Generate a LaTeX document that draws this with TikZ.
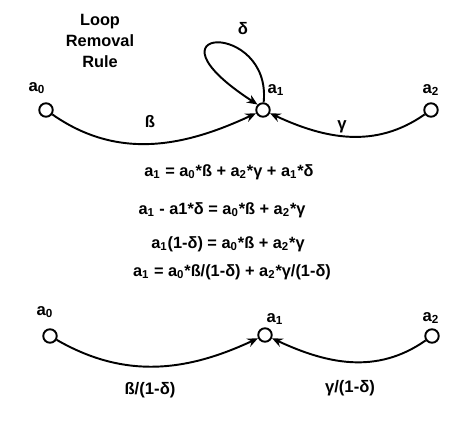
\documentclass[tikz,border=0pt]{standalone}
\usepackage{fontspec}
\setmainfont{Liberation Sans}
\usetikzlibrary{arrows.meta,positioning}
\newcommand{\sbs}[1]{\textsubscript{#1}}

\begin{document}
\begin{tikzpicture}[
  x=0.02cm, y=0.02cm,
  state/.style={circle, draw, line width=1.1pt, fill=white, minimum size=0.27cm, inner sep=0pt},
  tag/.style={font=\fontsize{9.5}{11}\selectfont\bfseries, inner sep=1pt},
  eqn/.style={font=\fontsize{9.3}{11}\selectfont\bfseries, inner sep=1pt},
  edge/.style={line width=1.1pt, -{Stealth[length=6pt,width=5pt]}},
  node distance=0.1cm
]
  \useasboundingbox (0,0) rectangle (474,420);

  % title
  \node[tag, align=center, font=\fontsize{9.3}{12}\selectfont\bfseries] (title) at (100,379)
    {Loop\\Removal\\Rule};

  % top graph
  \node[state] (a0) at (46,310) {};
  \node[state] (a1) at (263,310) {};
  \node[state] (a2) at (431,310) {};
  \node[tag] (la0) at (37,332) {a\sbs{0}};
  \node[tag] (la1) at (276,330) {a\sbs{1}};
  \node[tag] (la2) at (431,330) {a\sbs{2}};
  \draw[edge] (a0) to[out=-35, in=205] (a1);
  \draw[edge] (a2) to[out=-145, in=-25] (a1);
  \draw[edge] (a1.85) .. controls (272,400) and (135,395) .. (a1.135);
  \node[tag] (beta)  at (150,298) {ß};
  \node[tag] (gamma) at (342,293) {γ};
  \node[tag] (delta) at (243,391) {δ};

  % equations
  \node[eqn] (eq1) at (229,248) {a\sbs{1} = a\sbs{0}*ß + a\sbs{2}*γ + a\sbs{1}*δ};
  \node[eqn] (eq2) at (222,210) {a\sbs{1} - a1*δ = a\sbs{0}*ß + a\sbs{2}*γ};
  \node[eqn] (eq3) at (228,176) {a\sbs{1}(1-δ) = a\sbs{0}*ß + a\sbs{2}*γ};
  \node[eqn] (eq4) at (232,148) {a\sbs{1} = a\sbs{0}*ß/(1-δ) + a\sbs{2}*γ/(1-δ)};

  % reduced graph
  \node[state] (b0) at (50,84) {};
  \node[state] (b1) at (265,85) {};
  \node[state] (b2) at (432,84) {};
  \node[tag] (lb0) at (45,108) {a\sbs{0}};
  \node[tag] (lb1) at (275,101) {a\sbs{1}};
  \node[tag] (lb2) at (431,102) {a\sbs{2}};
  \draw[edge] (b0) to[out=-30, in=205] (b1);
  \draw[edge] (b2) to[out=-145, in=-25] (b1);
  \node[tag] (beta2)  at (150,30) {ß/(1-δ)};
  \node[tag] (gamma2) at (350,32) {γ/(1-δ)};
\end{tikzpicture}
\end{document}
